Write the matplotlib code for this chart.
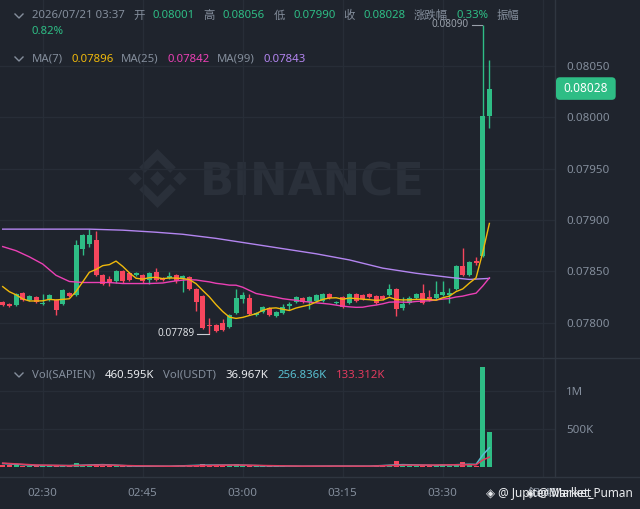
import matplotlib
matplotlib.use('Agg')
import matplotlib.pyplot as plt
import numpy as np
import pandas as pd
from matplotlib.lines import Line2D
from matplotlib.patches import FancyBboxPatch, Polygon
from matplotlib.transforms import IdentityTransform

W, H = 640, 509
BG = '#1f242d'
GRID = '#272d37'
SEP = '#2f3640'
MARK = '#2a303a'
GRAY = '#848e9c'
WHITE = '#eaecef'
UP = '#2ebd85'
DOWN = '#f6465d'
YELLOW = '#f0b90b'
MAGENTA = '#eb40b5'
PURPLE = '#b385f0'
CYAN = '#58bfd0'
PINK = '#e23a5e'
FONT = ['Noto Sans', 'Noto Sans CJK SC', 'DejaVu Sans']
plt.rcParams['font.family'] = FONT

# 1 minute candles, 02:24 .. 03:37
times = pd.date_range('2026-07-21 02:24', periods=74, freq='min')
opens = [0.07820, 0.07818, 0.07817, 0.07829, 0.07822, 0.07825, 0.07818, 0.07822, 0.07822, 0.07818,
         0.07829, 0.07827, 0.07872, 0.07877, 0.07880, 0.07846, 0.07842, 0.07840, 0.07850, 0.07848,
         0.07846, 0.07846, 0.07841, 0.07849, 0.07843, 0.07843, 0.07846, 0.07843, 0.07844, 0.07833,
         0.07826, 0.07798, 0.07798, 0.07800, 0.07796, 0.07809, 0.07823, 0.07824, 0.07807, 0.07810,
         0.07814, 0.07806, 0.07809, 0.07816, 0.07820, 0.07824, 0.07820, 0.07821, 0.07821, 0.07828,
         0.07819, 0.07825, 0.07819, 0.07828, 0.07827, 0.07828, 0.07826, 0.07826, 0.07827, 0.07833,
         0.07814, 0.07819, 0.07824, 0.07829, 0.07825, 0.07824, 0.07827, 0.07827, 0.07833, 0.07855,
         0.07846, 0.07860, 0.07865, 0.08001]
highs = [0.07821, 0.07819, 0.07829, 0.07830, 0.07827, 0.07826, 0.07828, 0.07828, 0.07823, 0.07833,
         0.07830, 0.07880, 0.07886, 0.07891, 0.07889, 0.07847, 0.07845, 0.07851, 0.07851, 0.07849,
         0.07849, 0.07847, 0.07849, 0.07853, 0.07844, 0.07849, 0.07847, 0.07846, 0.07845, 0.07834,
         0.07827, 0.07804, 0.07799, 0.07803, 0.07808, 0.07833, 0.07830, 0.07828, 0.07810, 0.07816,
         0.07815, 0.07811, 0.07818, 0.07820, 0.07826, 0.07825, 0.07826, 0.07828, 0.07829, 0.07829,
         0.07821, 0.07826, 0.07829, 0.07829, 0.07828, 0.07829, 0.07827, 0.07827, 0.07838, 0.07834,
         0.07825, 0.07826, 0.07829, 0.07838, 0.07832, 0.07840, 0.07840, 0.07834, 0.07856, 0.07873,
         0.07860, 0.07864, 0.08090, 0.08056]
lows = [0.07816, 0.07815, 0.07816, 0.07821, 0.07821, 0.07819, 0.07817, 0.07821, 0.07807, 0.07817,
        0.07825, 0.07826, 0.07866, 0.07874, 0.07845, 0.07837, 0.07836, 0.07839, 0.07839, 0.07840,
        0.07845, 0.07839, 0.07838, 0.07840, 0.07840, 0.07842, 0.07839, 0.07830, 0.07832, 0.07811,
        0.07794, 0.07789, 0.07791, 0.07792, 0.07795, 0.07808, 0.07819, 0.07807, 0.07806, 0.07809,
        0.07806, 0.07805, 0.07808, 0.07812, 0.07819, 0.07819, 0.07813, 0.07820, 0.07820, 0.07823,
        0.07818, 0.07814, 0.07818, 0.07820, 0.07822, 0.07824, 0.07818, 0.07822, 0.07826, 0.07806,
        0.07812, 0.07818, 0.07823, 0.07818, 0.07821, 0.07823, 0.07826, 0.07819, 0.07832, 0.07845,
        0.07845, 0.07856, 0.07864, 0.07990]
closes = [0.07817, 0.07816, 0.07828, 0.07822, 0.07826, 0.07820, 0.07819, 0.07827, 0.07812, 0.07832,
          0.07826, 0.07876, 0.07885, 0.07885, 0.07846, 0.07838, 0.07839, 0.07850, 0.07840, 0.07841,
          0.07848, 0.07840, 0.07848, 0.07841, 0.07841, 0.07845, 0.07840, 0.07845, 0.07833, 0.07820,
          0.07795, 0.07797, 0.07792, 0.07793, 0.07807, 0.07824, 0.07827, 0.07808, 0.07809, 0.07815,
          0.07807, 0.07810, 0.07815, 0.07818, 0.07825, 0.07820, 0.07825, 0.07827, 0.07828, 0.07824,
          0.07820, 0.07815, 0.07828, 0.07821, 0.07823, 0.07825, 0.07819, 0.07823, 0.07833, 0.07813,
          0.07818, 0.07824, 0.07828, 0.07819, 0.07822, 0.07828, 0.07830, 0.07829, 0.07855, 0.07846,
          0.07859, 0.07858, 0.08001, 0.08028]
volumes = [30, 25, 35, 20, 18, 15, 12, 15, 25, 30, 15, 60, 35, 30, 40, 20, 12, 18, 15, 12,
           10, 15, 12, 18, 10, 12, 15, 20, 25, 30, 45, 25, 20, 22, 30, 40, 20, 25, 12, 15,
           18, 15, 20, 10, 15, 12, 15, 18, 20, 15, 10, 18, 20, 15, 12, 10, 15, 12, 25, 85,
           20, 15, 18, 30, 20, 25, 40, 20, 45, 65, 40, 20, 1316, 460.595]
volumes = [v * 1000 for v in volumes]
quote_vol = 36967

# moving averages: MA(7) from closes, early parts of MA(25) and MA(99)
ma7_head = [0.07835, 0.07830, 0.07827, 0.07823, 0.07821, 0.07821]
ma25_head_idx = [0, 2, 4, 6, 8, 10, 12, 14, 16, 18, 20, 22]
ma25_head = [0.07874, 0.07870, 0.07864, 0.07857, 0.07846, 0.07840,
             0.07839, 0.07839, 0.07839, 0.07838, 0.07838, 0.07838]
ma99_idx = [0, 8, 13, 18, 23, 27, 32, 37, 42, 47, 52, 57, 62, 67, 70, 73]
ma99 = [0.07891, 0.07891, 0.07891, 0.07890, 0.07888, 0.07886, 0.07882, 0.07877,
        0.07872, 0.07867, 0.07861, 0.07853, 0.07848, 0.07844, 0.07842, 0.07843]
ma_last = [0.07896, 0.07842, 0.07843]

vol_ma_idx = [0, 5, 10, 15, 20, 25, 30, 35, 40, 45, 50, 55, 60, 65, 70, 71, 72, 73]
vol_ma5 = [50, 25, 22, 35, 15, 14, 28, 30, 18, 14, 16, 15, 35, 25, 40, 38, 162, 256.836]
vol_ma10 = [55, 30, 22, 30, 20, 14, 22, 30, 22, 15, 16, 15, 28, 30, 35, 33, 96, 133.312]

change_pct = '0.33%'
amplitude = '0.82%'

price_ticks = [0.07800, 0.07850, 0.07900, 0.07950, 0.08000, 0.08050]
vol_ticks = [500000, 1000000]
vol_tick_labels = ['500K', '1M']

# ---------------------------------------------------------------
x = np.arange(len(closes))
o = np.array(opens); c = np.array(closes)
hi = np.array(highs); lo = np.array(lows)
col = [UP if cc >= oo else DOWN for oo, cc in zip(o, c)]

fig = plt.figure(figsize=(W / 100, H / 100), dpi=100, facecolor=BG)

# watermark logo
def logo(cx, cy, u):
    chev = [(-.62, .38), (0, 1), (.62, .38), (.43, .19), (0, .62), (-.43, .19)]
    shapes = [
        [(0, .25), (.25, 0), (0, -.25), (-.25, 0)],
        [(-.76, .23), (-.53, 0), (-.76, -.23), (-.99, 0)],
        [(.76, .23), (.99, 0), (.76, -.23), (.53, 0)],
        chev,
        [(px, -py) for px, py in chev],
    ]
    for pts in shapes:
        poly = Polygon([((cx + px * u) / W, 1 - (cy - py * u) / H) for px, py in pts],
                       closed=True, transform=fig.transFigure,
                       facecolor=MARK, edgecolor='none', zorder=-2)
        fig.patches.append(poly)

logo(157.5, 178.5, 29.5)
fig.text(200 / W, 1 - 195 / H, 'BINANCE', fontsize=32.4, fontweight='bold',
         family='DejaVu Sans', color=MARK, va='baseline', zorder=-2)

ax = fig.add_axes([0, 1 - 357 / H, 555 / W, 357 / H])
axv = fig.add_axes([0, 1 - 477 / H, 555 / W, (477 - 358) / H])
for a in (ax, axv):
    a.set_facecolor('none')
    for s in a.spines.values():
        s.set_visible(False)
    a.set_xlim(-0.405, 82.84)
    a.set_xticks([6, 21, 36, 51, 66, 81])
    a.grid(True, color=GRID, linewidth=0.9)
    a.set_axisbelow(True)
    a.yaxis.tick_right()
    a.tick_params(length=0, colors=GRAY, labelsize=8.3, pad=8)

# candles
ax.vlines(x, lo, hi, colors=col, linewidth=1, zorder=2)
body_lo = np.minimum(o, c)
body_h = np.maximum(np.abs(c - o), 0.00001)
ax.bar(x, body_h, bottom=body_lo, width=0.75, color=col, linewidth=0, zorder=3)

ma7 = pd.Series(closes).rolling(7).mean().to_numpy()
ma7[:6] = ma7_head
ma25_calc = pd.Series(closes).rolling(25).mean().to_numpy()
ma25_x = ma25_head_idx + list(range(24, len(closes)))
ma25_y = ma25_head + list(ma25_calc[24:])
ax.plot(ma99_idx, ma99, color=PURPLE, linewidth=1, zorder=4)
ax.plot(ma25_x, ma25_y, color=MAGENTA, linewidth=1, zorder=4)
ax.plot(x, ma7, color=YELLOW, linewidth=1, zorder=4)

ax.set_ylim(0.077664, 0.081143)
ax.set_yticks(price_ticks)
ax.set_yticklabels([f'{p:.5f}' for p in price_ticks])
ax.set_xticklabels([])

# high / low markers
ih = int(np.argmax(hi)); il = int(np.argmin(lo))
ax.plot([ih - 1.65, ih - 0.15], [hi[ih], hi[ih]], color='#9aa1ab', linewidth=0.8, zorder=5)
ax.text(ih - 2.05, hi[ih], f'{hi[ih]:.5f}', ha='right', va='center', fontsize=7.2,
        color='#9aa1ab', zorder=5)
ax.plot([il - 1.85, il], [lo[il], lo[il]], color='#c9ced4', linewidth=0.8, zorder=5)
ax.text(il - 2.2, lo[il], f'{lo[il]:.5f}', ha='right', va='center', fontsize=7.2,
        color='#dfe2e6', zorder=5)

# volume panel
axv.bar(x, volumes, width=0.75, color=col, linewidth=0, zorder=3)
axv.plot(vol_ma_idx, [v * 1000 for v in vol_ma5], color=CYAN, linewidth=1.1, zorder=4)
axv.plot(vol_ma_idx, [v * 1000 for v in vol_ma10], color=PINK, linewidth=1.1, zorder=4)
axv.set_ylim(-127700, 1438000)
axv.set_yticks(vol_ticks)
axv.set_yticklabels(vol_tick_labels)
axv.set_xticklabels([(pd.Timestamp('2026-07-21 02:30') + pd.Timedelta(minutes=15 * k)).strftime('%H:%M')
                     for k in range(6)])

# panel separators
fig.add_artist(Line2D([0, 1], [1 - 357.5 / H] * 2, color=SEP, linewidth=1))
fig.add_artist(Line2D([0, 1], [1 - 477 / H] * 2, color=SEP, linewidth=1))
fig.add_artist(Line2D([555 / W] * 2, [1 - 477 / H, 1], color=SEP, linewidth=1))

# current price tag
yd = ax.transData.transform((0, closes[-1]))[1]
tag = FancyBboxPatch((556, yd - 11.3), 59.7, 22.6, boxstyle='round,pad=0,rounding_size=4',
                     transform=IdentityTransform(), facecolor=UP, edgecolor='none', zorder=6)
fig.patches.append(tag)
fig.text(585.5 / W, yd / H, f'{closes[-1]:.5f}', ha='center', va='center', color='white',
         fontsize=8.5, zorder=7)

# legends
renderer = fig.canvas.get_renderer()
def row(x0, y0, parts, gap=8.8, size=8.2):
    xx = x0
    for s, cl in parts:
        t = fig.text(xx / W, 1 - y0 / H, s, color=cl, fontsize=size, ha='left', va='center')
        xx += t.get_window_extent(renderer=renderer).width + gap

def chevron(y0):
    fig.add_artist(Line2D([15 / W, 19 / W, 23 / W], [1 - (y0 - 2) / H, 1 - (y0 + 2) / H, 1 - (y0 - 2) / H],
                          color=GRAY, linewidth=1))

last = len(closes) - 1
vc = UP if closes[last] >= opens[last] else DOWN
chevron(16)
row(32, 16, [(times[last].strftime('%Y/%m/%d %H:%M'), GRAY), ('开', GRAY), (f'{opens[last]:.5f}', vc),
             ('高', GRAY), (f'{highs[last]:.5f}', vc), ('低', GRAY), (f'{lows[last]:.5f}', vc),
             ('收', GRAY), (f'{closes[last]:.5f}', vc), ('涨跌幅', GRAY), (change_pct, vc), ('振幅', GRAY)],
    gap=8.3)
row(32, 32, [(amplitude, vc)])
chevron(59)
row(32, 59, [('MA(7)', GRAY), (f'{ma_last[0]:.5f}', YELLOW), ('MA(25)', GRAY),
             (f'{ma_last[1]:.5f}', MAGENTA), ('MA(99)', GRAY), (f'{ma_last[2]:.5f}', PURPLE)],
    gap=8.0)
chevron(375)
row(32, 375, [('Vol(SAPIEN)', GRAY), (f'{volumes[-1] / 1000:.3f}K', WHITE), ('Vol(USDT)', GRAY),
              (f'{quote_vol / 1000:.3f}K', WHITE), (f'{vol_ma5[-1]:.3f}K', CYAN),
              (f'{vol_ma10[-1]:.3f}K', PINK)], gap=9.3)

# user watermark (two overlapping copies, as in the screenshot)
fig.text(486 / W, 1 - 493 / H, '◈ @ Jupiter Market', color=WHITE, fontsize=8.5, va='center', zorder=8)
fig.text(526 / W, 1 - 493 / H, '◈ @Market_Puman', color=WHITE, fontsize=8.5, va='center', zorder=8)

fig.savefig('out.png', dpi=100, facecolor=BG)
